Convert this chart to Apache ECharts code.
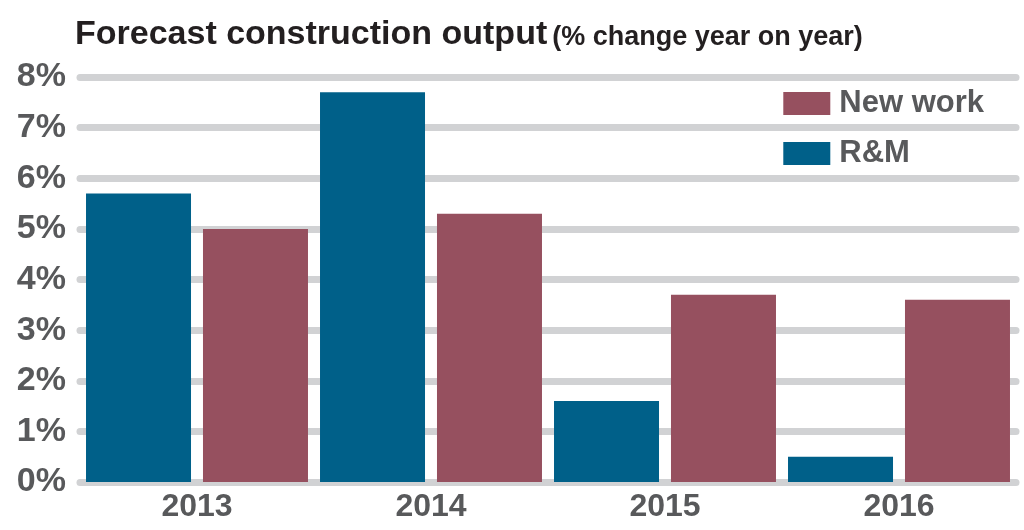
<!DOCTYPE html>
<html><head><meta charset="utf-8">
<script src="https://cdn.jsdelivr.net/npm/echarts@6/dist/echarts.min.js"></script>
<style>html,body{margin:0;padding:0;background:#fff}#c{width:1024px;height:530px}</style>
</head><body><div id="c"></div>
<script>
const categories = ['2013', '2014', '2015', '2016'];
const rmValues = [5.7, 7.7, 1.6, 0.5];
const newWorkValues = [5.0, 5.3, 3.7, 3.6];
const yTicks = [0, 1, 2, 3, 4, 5, 6, 7, 8];

const FONT = '"Liberation Sans", Arial, sans-serif';
const GRAY = '#58595b';
const chart = echarts.init(document.getElementById('c'), null, {renderer: 'canvas'});
chart.setOption({
  animation: false,
  backgroundColor: '#fff',
  title: {
    left: 70, top: 13,
    text: '{a|Forecast construction output} {b|(% change year on year)}',
    textStyle: {
      rich: {
        a: {fontFamily: FONT, fontWeight: 'bold', fontSize: 34, color: '#231f20', letterSpacing: -0.5},
        b: {fontFamily: FONT, fontWeight: 'bold', fontSize: 27, color: '#231f20', padding: [5, 0, 0, 0]}
      }
    }
  },
  legend: {
    right: 35, top: 83, orient: 'vertical', itemWidth: 47, itemHeight: 23, itemGap: 19,
    icon: 'rect',
    data: ['New work', 'R&M'],
    textStyle: {fontFamily: FONT, fontWeight: 'bold', fontSize: 31, color: GRAY, padding: [0, 0, 0, 4], letterSpacing: -0.5}
  },
  grid: {left: 80, right: 8, top: 77, bottom: 48, containLabel: false},
  xAxis: {
    type: 'category', data: categories,
    axisLine: {show: false}, axisTick: {show: false},
    axisLabel: {fontFamily: FONT, fontWeight: 'bold', fontSize: 32, color: GRAY, margin: 9}
  },
  yAxis: {
    type: 'value', min: 0, max: 8, interval: 1,
    axisLine: {show: false}, axisTick: {show: false},
    axisLabel: {fontFamily: FONT, fontWeight: 'bold', fontSize: 34, color: GRAY, margin: 14, letterSpacing: 1,
      formatter: v => yTicks.includes(v) ? v + '%' : ''},
    splitLine: {show: true, lineStyle: {color: '#d1d2d4', width: 7, cap: 'round'}}
  },
  series: [
    {name: 'R&M', type: 'bar', data: rmValues, barWidth: 105, barGap: '11.4%',
      itemStyle: {color: '#006089'}},
    {name: 'New work', type: 'bar', data: newWorkValues, barWidth: 105,
      itemStyle: {color: '#96505f'}}
  ]
});
</script></body></html>
